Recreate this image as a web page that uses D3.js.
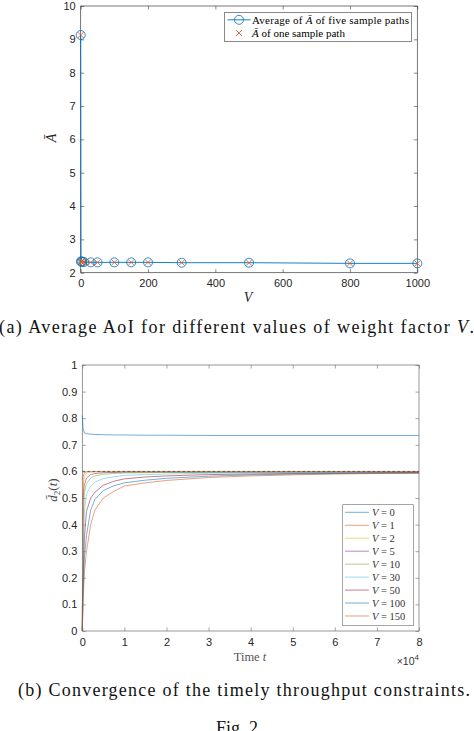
<!DOCTYPE html>
<html>
<head>
<meta charset="utf-8">
<script src="https://cdn.jsdelivr.net/npm/d3@7/dist/d3.min.js"></script>
<style>
  body { margin: 0; background: #fff; }
  svg { display: block; }
</style>
</head>
<body>
<script>
// (a) average AoI for each weight factor V
const weightV = [0, 1, 2, 5, 10, 30, 50, 100, 150, 200, 300, 500, 800, 1000];
const aoiAverage = [9.13, 2.34, 2.33, 2.33, 2.32, 2.31, 2.31, 2.31, 2.31, 2.31, 2.30, 2.30, 2.28, 2.28];
const aoiOnePath = [9.13, 2.33, 2.33, 2.32, 2.32, 2.31, 2.31, 2.31, 2.31, 2.31, 2.30, 2.30, 2.28, 2.28];
const aoiXTicks = [0, 200, 400, 600, 800, 1000];
const aoiYTicks = [2, 3, 4, 5, 6, 7, 8, 9, 10];

// (b) timely throughput d2(t) over time (t in units of 10^4)
const timeT = [0, 0.02, 0.05, 0.1, 0.2, 0.3, 0.5, 0.75, 1, 1.5, 2, 3, 4, 5, 6, 7, 8];
const seriesV = [0, 1, 2, 5, 10, 30, 50, 100, 150];
const d2V0   = [0.81, 0.76, 0.745, 0.742, 0.740, 0.739, 0.738, 0.737, 0.737, 0.736, 0.736, 0.735, 0.735, 0.735, 0.735, 0.735, 0.735];
const d2V1   = [0, 0.58, 0.595, 0.598, 0.599, 0.599, 0.599, 0.599, 0.599, 0.599, 0.599, 0.599, 0.599, 0.599, 0.599, 0.599, 0.599];
const d2V2   = [0, 0.55, 0.585, 0.594, 0.597, 0.598, 0.598, 0.598, 0.598, 0.598, 0.598, 0.598, 0.598, 0.598, 0.598, 0.598, 0.598];
const d2V5   = [0, 0.50, 0.55, 0.575, 0.588, 0.592, 0.595, 0.596, 0.597, 0.597, 0.597, 0.597, 0.597, 0.597, 0.597, 0.597, 0.597];
const d2V10  = [0, 0.40, 0.52, 0.555, 0.575, 0.583, 0.589, 0.592, 0.594, 0.595, 0.596, 0.596, 0.597, 0.597, 0.597, 0.597, 0.597];
const d2V30  = [0, 0.30, 0.45, 0.515, 0.545, 0.560, 0.573, 0.580, 0.585, 0.588, 0.590, 0.593, 0.594, 0.595, 0.595, 0.596, 0.596];
const d2V50  = [0, 0.20, 0.35, 0.45, 0.500, 0.522, 0.548, 0.563, 0.572, 0.579, 0.583, 0.588, 0.590, 0.592, 0.593, 0.594, 0.595];
const d2V100 = [0, 0.15, 0.28, 0.36, 0.455, 0.495, 0.528, 0.546, 0.557, 0.567, 0.574, 0.582, 0.587, 0.590, 0.592, 0.593, 0.594];
const d2V150 = [0, 0.12, 0.22, 0.30, 0.400, 0.455, 0.500, 0.525, 0.545, 0.557, 0.566, 0.577, 0.583, 0.587, 0.590, 0.592, 0.593];
const d2Series = [d2V0, d2V1, d2V2, d2V5, d2V10, d2V30, d2V50, d2V100, d2V150];
const throughputTarget = 0.6;
const d2XTicks = [0, 1, 2, 3, 4, 5, 6, 7, 8];
const d2YTicks = [0, 0.1, 0.2, 0.3, 0.4, 0.5, 0.6, 0.7, 0.8, 0.9, 1];

const matlabColors = ["#0072BD", "#D95319", "#EDB120", "#7E2F8E", "#77AC30", "#4DBEEE", "#A2142F"];
const serif = "'Liberation Serif', 'DejaVu Serif', serif";
const sans = "'Liberation Sans', Arial, sans-serif";

const svg = d3.select("body").append("svg")
    .attr("width", 474)
    .attr("height", 731);

// draws a MATLAB style box with inward ticks on all four sides
function drawBox(x, y, xTicks, yTicks, fmtX, fmtY, color) {
    const [x0, x1] = x.range();
    const [y0, y1] = y.range();

    const styleAxis = g => {
        g.select(".domain").remove();
        g.selectAll("line").attr("stroke", color).attr("stroke-width", 0.6);
        g.selectAll("text")
            .attr("fill", "#262626")
            .style("font-family", sans)
            .style("font-size", "11px");
    };

    svg.append("g")
        .attr("transform", `translate(0,${y0})`)
        .call(d3.axisBottom(x).tickValues(xTicks).tickFormat(fmtX).tickSizeInner(-3.5).tickSizeOuter(0).tickPadding(7))
        .call(styleAxis);
    svg.append("g")
        .attr("transform", `translate(0,${y1})`)
        .call(d3.axisTop(x).tickValues(xTicks).tickFormat("").tickSizeInner(-3.5).tickSizeOuter(0))
        .call(styleAxis);
    svg.append("g")
        .attr("transform", `translate(${x0},0)`)
        .call(d3.axisLeft(y).tickValues(yTicks).tickFormat(fmtY).tickSizeInner(-3.5).tickSizeOuter(0).tickPadding(5))
        .call(styleAxis);
    svg.append("g")
        .attr("transform", `translate(${x1},0)`)
        .call(d3.axisRight(y).tickValues(yTicks).tickFormat("").tickSizeInner(-3.5).tickSizeOuter(0))
        .call(styleAxis);

    svg.append("rect")
        .attr("x", x0)
        .attr("y", y1)
        .attr("width", x1 - x0)
        .attr("height", y0 - y1)
        .attr("fill", "none")
        .attr("stroke", color)
        .attr("stroke-width", 0.7);
}

// ---------- (a) ----------
const xA = d3.scaleLinear().domain([0, 1000]).range([80.7, 417.3]);
const yA = d3.scaleLinear().domain([2, 10]).range([272.7, 6]);
const crossPath = "M-3,-3L3,3M-3,3L3,-3";

drawBox(xA, yA, aoiXTicks, aoiYTicks, d3.format("d"), d3.format("d"), "#3c3c3c");

svg.append("path")
    .datum(weightV.map((v, i) => [v, aoiAverage[i]]))
    .attr("fill", "none")
    .attr("stroke", matlabColors[0])
    .attr("stroke-width", 0.9)
    .attr("d", d3.line().x(d => xA(d[0])).y(d => yA(d[1])));

svg.selectAll(".avg-marker")
    .data(weightV.map((v, i) => [v, aoiAverage[i]]))
    .enter()
    .append("circle")
    .attr("class", "avg-marker")
    .attr("cx", d => xA(d[0]))
    .attr("cy", d => yA(d[1]))
    .attr("r", 4.5)
    .attr("fill", "none")
    .attr("stroke", matlabColors[0])
    .attr("stroke-width", 0.8);

svg.selectAll(".one-marker")
    .data(weightV.map((v, i) => [v, aoiOnePath[i]]))
    .enter()
    .append("path")
    .attr("class", "one-marker")
    .attr("transform", d => `translate(${xA(d[0])},${yA(d[1])})`)
    .attr("d", crossPath)
    .attr("fill", "none")
    .attr("stroke", matlabColors[1])
    .attr("stroke-width", 0.8);

// legend (a)
const legA = svg.append("g");
legA.append("rect")
    .attr("x", 224.3).attr("y", 12.7)
    .attr("width", 187.4).attr("height", 28.6)
    .attr("fill", "#fff")
    .attr("stroke", "#3c3c3c")
    .attr("stroke-width", 0.6);
legA.append("line")
    .attr("x1", 227.5).attr("x2", 250.5)
    .attr("y1", 19.8).attr("y2", 19.8)
    .attr("stroke", matlabColors[0]).attr("stroke-width", 0.9);
legA.append("circle")
    .attr("cx", 239).attr("cy", 19.8).attr("r", 4.5)
    .attr("fill", "none").attr("stroke", matlabColors[0]).attr("stroke-width", 0.8);
legA.append("path")
    .attr("transform", "translate(239,33)")
    .attr("d", crossPath)
    .attr("fill", "none").attr("stroke", matlabColors[1]).attr("stroke-width", 0.8);

const legAText1 = legA.append("text")
    .attr("x", 252).attr("y", 23.5)
    .style("font-family", serif).style("font-size", "11px")
    .attr("textLength", 157);
legAText1.append("tspan").text("Average of ");
legAText1.append("tspan").style("font-style", "italic").text("Ā");
legAText1.append("tspan").text(" of five sample paths");

const legAText2 = legA.append("text")
    .attr("x", 252).attr("y", 36.8)
    .style("font-family", serif).style("font-size", "11px");
legAText2.append("tspan").style("font-style", "italic").text("Ā");
legAText2.append("tspan").text(" of one sample path");

svg.append("text")
    .attr("transform", "translate(56,138) rotate(-90)")
    .attr("text-anchor", "middle")
    .style("font-family", serif).style("font-size", "14px").style("font-style", "italic")
    .attr("fill", "#262626")
    .text("Ā");

svg.append("text")
    .attr("x", 248).attr("y", 302)
    .attr("text-anchor", "middle")
    .style("font-family", serif).style("font-size", "14px").style("font-style", "italic")
    .attr("fill", "#262626")
    .text("V");

const capA = svg.append("text")
    .attr("x", -1).attr("y", 333)
    .attr("textLength", 475)
    .attr("lengthAdjust", "spacing")
    .style("font-family", serif).style("font-size", "18px")
    .attr("fill", "#111");
capA.append("tspan").text("(a) Average AoI for different values of weight factor ");
capA.append("tspan").style("font-style", "italic").text("V");
capA.append("tspan").text(".");

// ---------- (b) ----------
const xB = d3.scaleLinear().domain([0, 8]).range([82.3, 419]);
const yB = d3.scaleLinear().domain([0, 1]).range([631, 365]);

drawBox(xB, yB, d2XTicks, d2YTicks, d3.format("d"), d => d === 0 || d === 1 ? d3.format("d")(d) : d3.format(".1f")(d), "#6a6a6a");

const lineB = d3.line()
    .x((d, i) => xB(timeT[i]))
    .y(d => yB(d));

svg.selectAll(".d2-line")
    .data(d2Series)
    .enter()
    .append("path")
    .attr("class", "d2-line")
    .attr("fill", "none")
    .attr("stroke", (d, i) => matlabColors[i % matlabColors.length])
    .attr("stroke-width", 0.7)
    .attr("stroke-opacity", 0.8)
    .attr("d", lineB);

svg.append("line")
    .attr("x1", xB(0)).attr("x2", xB(8))
    .attr("y1", yB(throughputTarget)).attr("y2", yB(throughputTarget))
    .attr("stroke", "#333")
    .attr("stroke-width", 0.7)
    .attr("stroke-dasharray", "3,2");

// legend (b)
const legB = svg.append("g");
legB.append("rect")
    .attr("x", 342.7).attr("y", 504.7)
    .attr("width", 70.6).attr("height", 121)
    .attr("fill", "#fff")
    .attr("stroke", "#6a6a6a")
    .attr("stroke-width", 0.6);

const legRows = legB.selectAll(".leg-row")
    .data(seriesV)
    .enter()
    .append("g")
    .attr("class", "leg-row")
    .attr("transform", (d, i) => `translate(0,${512.3 + i * 12.96})`);

legRows.append("line")
    .attr("x1", 345).attr("x2", 369)
    .attr("stroke", (d, i) => matlabColors[i % matlabColors.length])
    .attr("stroke-width", 0.7)
    .attr("stroke-opacity", 0.8);

const legRowText = legRows.append("text")
    .attr("x", 372).attr("y", 3.6)
    .style("font-family", serif).style("font-size", "10.5px")
    .attr("fill", "#333");
legRowText.append("tspan").style("font-style", "italic").text("V");
legRowText.append("tspan").text(d => ` = ${d}`);

const yLabB = svg.append("text")
    .attr("transform", "translate(57,490) rotate(-90)")
    .attr("text-anchor", "middle")
    .style("font-family", serif).style("font-size", "13px")
    .attr("fill", "#444");
yLabB.append("tspan").style("font-style", "italic").text("d\u0304");
yLabB.append("tspan").attr("dy", 3).style("font-size", "9px").text("2");
yLabB.append("tspan").attr("dy", -3).text("(");
yLabB.append("tspan").style("font-style", "italic").text("t");
yLabB.append("tspan").text(")");

const xLabB = svg.append("text")
    .attr("x", 250).attr("y", 661)
    .attr("text-anchor", "middle")
    .style("font-family", serif).style("font-size", "12.5px")
    .attr("fill", "#555");
xLabB.append("tspan").text("Time ");
xLabB.append("tspan").style("font-style", "italic").text("t");

const expB = svg.append("text")
    .attr("x", 419).attr("y", 665)
    .attr("text-anchor", "end")
    .style("font-family", sans).style("font-size", "10.5px")
    .attr("fill", "#333");
expB.append("tspan").text("×10");
expB.append("tspan").attr("dy", -5).style("font-size", "8px").text("4");

svg.append("text")
    .attr("x", 18).attr("y", 696)
    .attr("textLength", 452)
    .attr("lengthAdjust", "spacing")
    .style("font-family", serif).style("font-size", "18px")
    .attr("fill", "#111")
    .text("(b) Convergence of the timely throughput constraints.");

svg.append("text")
    .attr("x", 237).attr("y", 734)
    .attr("text-anchor", "middle")
    .style("font-family", serif).style("font-size", "18px")
    .attr("fill", "#111")
    .text("Fig. 2");
</script>
</body>
</html>
